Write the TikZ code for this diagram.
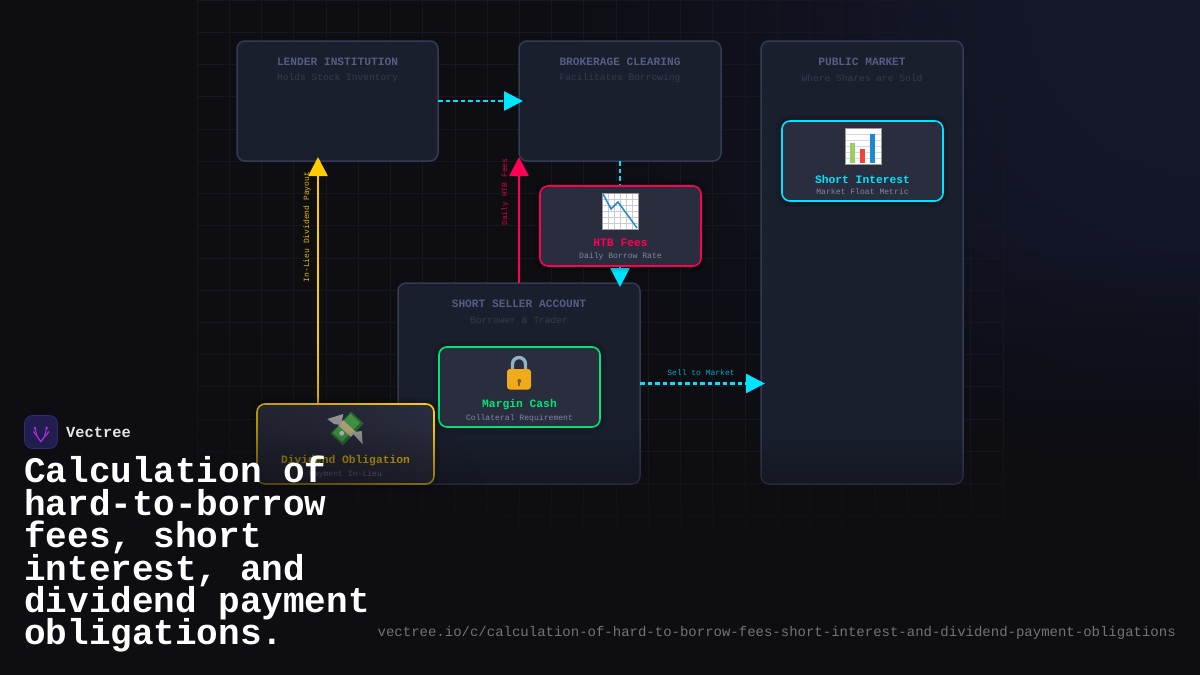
\documentclass[tikz,border=0pt]{standalone}
\usepackage{fontspec}
\setmonofont{Liberation Mono}
\usetikzlibrary{arrows.meta,fadings}

\normallineskiplimit=-100pt
\lineskiplimit=-100pt

\definecolor{bgdark}{HTML}{0D0D12}
\definecolor{glowblue}{HTML}{15182B}
\definecolor{gridline}{HTML}{17171F}
\definecolor{panelfill}{HTML}{1A1F2E}
\definecolor{panelline}{HTML}{333B55}
\definecolor{paneltext}{HTML}{545D82}
\definecolor{panelsub}{HTML}{353A50}
\definecolor{cardfill}{HTML}{2A2D3E}
\definecolor{cardsub}{HTML}{7F86A8}
\definecolor{flowcyan}{HTML}{00E5FF}
\definecolor{flowred}{HTML}{FF0055}
\definecolor{flowgold}{HTML}{FFCC00}
\definecolor{flowgreen}{HTML}{00E676}
\definecolor{logofill}{HTML}{211D4E}
\definecolor{logoline}{HTML}{312C6B}
\definecolor{logomark}{HTML}{A62FD6}
\definecolor{chartblue}{HTML}{1E88D8}
\definecolor{chartgreen}{HTML}{9CCC65}
\definecolor{chartred}{HTML}{F44336}
\definecolor{lockgold}{HTML}{F0AB1A}
\definecolor{lockbar}{HTML}{8FB2C6}
\definecolor{billdark}{HTML}{2E7D32}
\definecolor{billlight}{HTML}{4CAF50}
\definecolor{billband}{HTML}{D9C48F}
\definecolor{winggray}{HTML}{B5B5B5}

\tikzfading[name=fadeup, top color=transparent!100, bottom color=transparent!0]
\tikzfading[name=fadecorner, inner color=transparent!0, outer color=transparent!100]

\tikzset{
  panel/.style={draw=panelline, fill=panelfill, line width=1.5pt, rounded corners=8pt, outer sep=0pt, inner sep=0pt},
  card/.style={draw=#1, fill=cardfill, line width=1.6pt, rounded corners=8pt, outer sep=0pt, inner sep=0pt,
    minimum height=80pt,
    preaction={draw=black, draw opacity=.08, line width=12pt},
    preaction={draw=black, draw opacity=.10, line width=7pt}},
  paneltitle/.style={font=\ttfamily\bfseries\fontsize{11.2}{13}\selectfont, text=paneltext},
  panelnote/.style={font=\ttfamily\fontsize{9.6}{12}\selectfont, text=panelsub},
  cardtitle/.style={font=\ttfamily\bfseries\fontsize{11.3}{13}\selectfont, text=#1},
  cardnote/.style={font=\ttfamily\fontsize{8.1}{10}\selectfont, text=cardsub},
  flowlabel/.style={font=\ttfamily\fontsize{8}{10}\selectfont, text=#1},
  flow/.style={draw=#1, line width=2.5pt, shorten >=-4pt, -{Triangle[length=19pt,width=19pt,#1]}},
  dashflow/.style={flow=#1, dash pattern=on 4.7pt off 2.8pt}
}

\begin{document}
\begin{tikzpicture}[x=1pt, y=-1pt]
  \useasboundingbox (0,0) rectangle (1200,675);
  \fill[bgdark] (0,0) rectangle (1200,675);

  % Glow in the upper right corner
  \begin{scope}
    \clip (0,0) rectangle (1200,675);
    \foreach \r in {700,500,350} {
      \fill[glowblue, path fading=fadecorner] ({1200-\r},{-\r}) rectangle ({1200+\r},\r);
    }
    \fill[bgdark, path fading=fadeup] (400,250) rectangle (1200,480);
    \fill[bgdark] (400,479.5) rectangle (1200,675);
  \end{scope}

  % Background grid
  \foreach \i in {0,...,25} {
    \draw[gridline, line width=.8pt] ({197+\i*32.24},0) -- ({197+\i*32.24},532);
  }
  \foreach \j in {0,...,16} {
    \draw[gridline, line width=.8pt] (197,{\j*32.24}) -- (1003,{\j*32.24});
  }

  % Panels
  \node[panel, minimum width=201pt, minimum height=120pt] (lender) at (337.5,101) {};
  \node[panel, minimum width=202pt, minimum height=120pt] (brokerage) at (620,101) {};
  \node[panel, minimum width=202pt, minimum height=443pt] (market) at (862,262.5) {};
  \node[panel, minimum width=242pt, minimum height=201pt] (seller) at (519,383.5) {};

  \node[paneltitle] (lendertitle) at (337.5,62) {LENDER INSTITUTION};
  \node[panelnote] (lendernote) at (337.5,78) {Holds Stock Inventory};
  \node[paneltitle] (brokertitle) at (620,62) {BROKERAGE CLEARING};
  \node[panelnote] (brokernote) at (620,78) {Facilitates Borrowing};
  \node[paneltitle] (markettitle) at (862,62) {PUBLIC MARKET};
  \node[panelnote] (marketnote) at (862,78) {Where Shares are Sold};
  \node[paneltitle] (sellertitle) at (519,304) {SHORT SELLER ACCOUNT};
  \node[panelnote] (sellernote) at (519,320) {Borrower \& Trader};

  % Connectors
  \coordinate (goldstart) at (318,404);
  \coordinate (goldend) at (318,161);
  \coordinate (sellertop) at (620,283);
  \draw[dashflow=flowcyan] (lender.east) -- (brokerage.west);
  \draw[dashflow=flowcyan] (brokerage.south) -- (sellertop);
  \draw[flow=flowred] (seller.north) -- (brokerage.south west);
  \draw[flow=flowgold] (goldstart) -- (goldend);
  \draw[dashflow=flowcyan] (seller.east) -- (seller.east -| market.west);

  \node[flowlabel=flowcyan!75!black] (selllabel) at (701,373) {Sell to Market};
  \node[flowlabel=flowred!85!black, rotate=90] (feelabel) at (505,192) {Daily HTB Fees};
  \node[flowlabel=flowgold!90!black, rotate=90] (paylabel) at (307,227) {In-Lieu Dividend Payout};

  % Cards
  \node[card=flowcyan, minimum width=161pt] (shortcard) at (862.5,161) {};
  \node[card=flowred, minimum width=161pt] (htbcard) at (620.5,226) {};
  \node[card=flowgreen, minimum width=161pt] (margincard) at (519.5,387) {};
  \node[card=flowgold, minimum width=177pt] (dividendcard) at (345.5,444) {};

  \node[cardtitle=flowcyan] (shorttitle) at (862.5,179) {Short Interest};
  \node[cardnote] (shortnote) at (862.5,191.5) {Market Float Metric};
  \node[cardtitle=flowred] (htbtitle) at (620.5,243) {HTB Fees};
  \node[cardnote] (htbnote) at (620.5,256) {Daily Borrow Rate};
  \node[cardtitle=flowgreen] (margintitle) at (519.5,405) {Margin Cash};
  \node[cardnote] (marginnote) at (519.5,418) {Collateral Requirement};
  \node[cardtitle=flowgold] (dividendtitle) at (345.5,461) {Dividend Obligation};
  \node[cardnote] (dividendnote) at (345.5,474) {Payment In-Lieu};

  % Bar chart icon
  \fill[white] (845,128) rectangle (881,164);
  \foreach \y in {134,140,146,152,158} {
    \draw[black!15, line width=.8pt] (845,\y) -- (881,\y);
  }
  \draw[black!40, line width=.8pt] (845,128) rectangle (881,164);
  \fill[chartgreen] (850,143) rectangle (855,163);
  \fill[chartred] (860,149) rectangle (865,163);
  \fill[chartblue] (870,134) rectangle (875,163);

  % Falling chart icon
  \fill[white] (602,193) rectangle (638,229);
  \foreach \k in {1,...,5} {
    \draw[black!20, line width=.7pt] ({602+\k*6},193) -- ({602+\k*6},229);
    \draw[black!20, line width=.7pt] (602,{193+\k*6}) -- (638,{193+\k*6});
  }
  \draw[black!40, line width=.8pt] (602,193) rectangle (638,229);
  \draw[chartblue, line width=1.5pt] (603,194) -- (611,209) -- (618,202) -- (637,228);

  % Padlock icon
  \draw[lockbar, line width=3.4pt] (512.5,372) -- (512.5,364) arc[start angle=180, end angle=360, radius=6.5] -- (525.5,372);
  \fill[lockgold, rounded corners=3pt] (507,369) rectangle (531,389.5);
  \fill[brown!70!black] (519.3,381) circle (2pt);
  \fill[brown!70!black] (518.2,381) rectangle (520.4,386);

  % Winged money icon
  \fill[billdark, rotate around={47:(347,428.5)}] (332,420) rectangle (362,437);
  \fill[billlight, rotate around={47:(347,428.5)}] (334,421) rectangle (360,434);
  \fill[billband, rotate around={47:(347,428.5)}] (343.5,420) rectangle (350.5,437);
  \fill[white!80!billlight] (341.7,433.3) circle (2.4pt);
  \fill[winggray] (327.3,419) -- (343.3,414) -- (341,425) -- (334,424) -- cycle;
  \fill[winggray] (362.7,444.3) -- (351.7,432.3) -- (361.7,431) -- cycle;

  % Fade over the lower part of the diagram
  \begin{scope}
    \clip (0,0) rectangle (1200,675);
    \fill[bgdark, path fading=fadeup] (190,430) rectangle (1010,565);
    \fill[bgdark, path fading=fadecorner] (-60,330) rectangle (520,910);
  \end{scope}

  % Brand and caption
  \node[draw=logoline, fill=logofill, line width=.8pt, rounded corners=8pt, minimum size=33pt, inner sep=0pt] (logobox) at (41,432) {};
  \draw[logomark, line width=1.3pt] (33.5,431.5) -- (40.7,441.5) -- (49,431.5);
  \draw[logomark, line width=1pt] (35,428) -- (37,436);
  \draw[logomark, line width=1pt] (46.7,428) -- (44.5,436);
  \fill[logomark] (35,428) circle (1.5pt) (46.7,428) circle (1.5pt);
  \node[font=\ttfamily\bfseries\fontsize{15.4}{18}\selectfont, text=white!90!black, anchor=west, inner sep=0pt] (brandname) at (66,432) {Vectree};

  \node[font=\ttfamily\bfseries\fontsize{36}{32.4}\selectfont, text=white, align=left, anchor=north west, inner sep=0pt] (headline) at (24,456)
    {Calculation of\\hard-to-borrow\\fees, short\\interest, and\\dividend payment\\obligations.};
  \node[font=\ttfamily\fontsize{14}{16}\selectfont, text=white!42!bgdark, anchor=east, inner sep=0pt] (pageurl) at (1176,633)
    {vectree.io/c/calculation-of-hard-to-borrow-fees-short-interest-and-dividend-payment-obligations};
\end{tikzpicture}
\end{document}
